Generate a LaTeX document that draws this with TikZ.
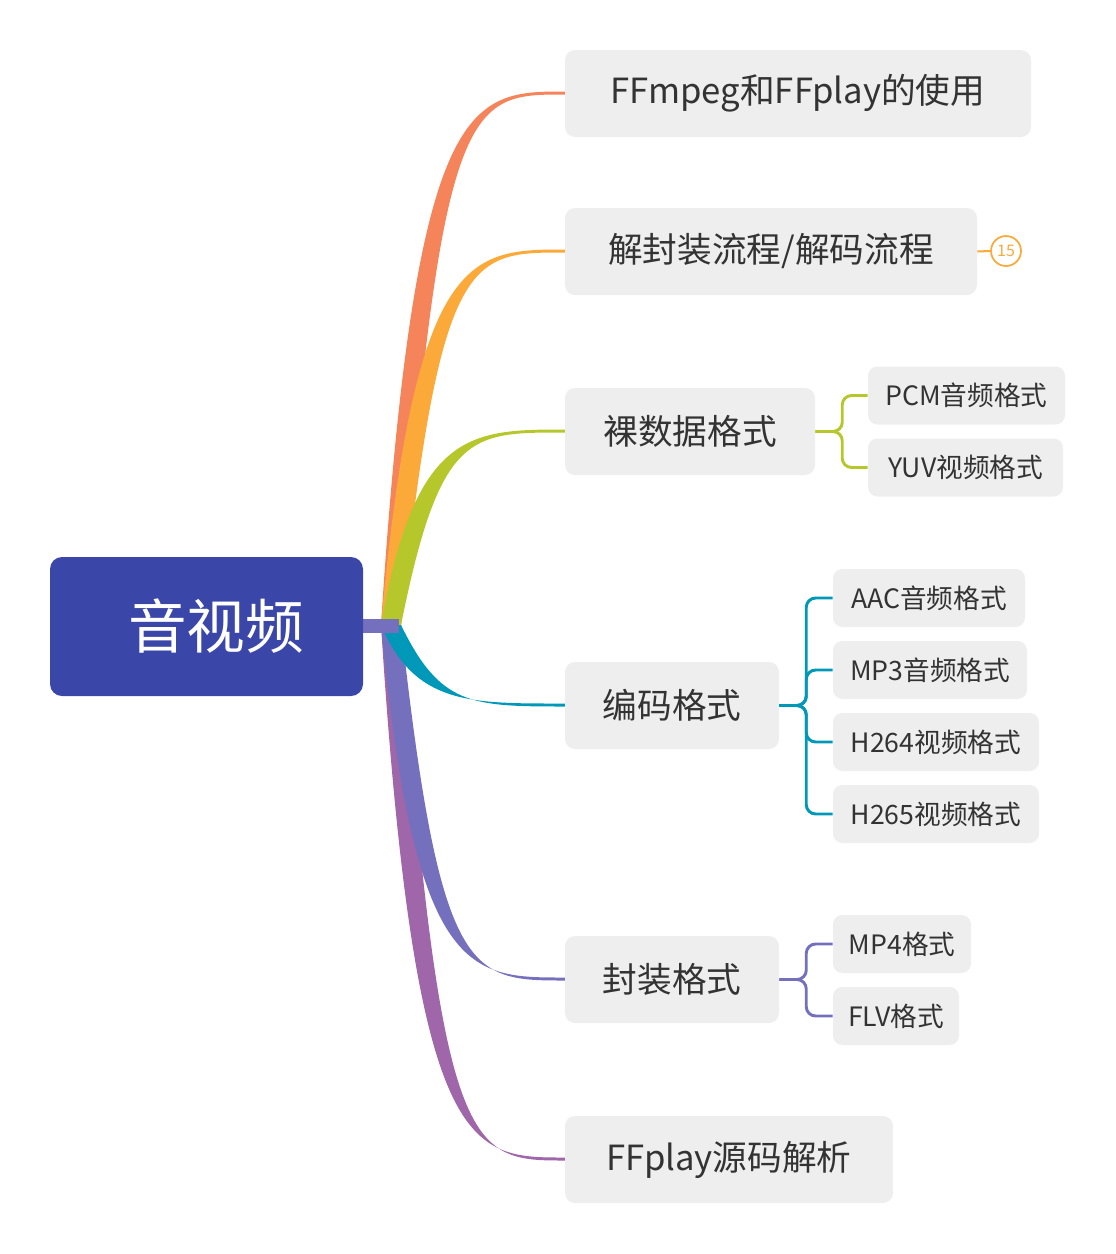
\documentclass[tikz,border=0pt]{standalone}
\usepackage{fontspec}
\setmainfont{Noto Sans CJK SC}
\definecolor{rootc}{HTML}{3A47A8}
\definecolor{c1}{HTML}{F5845A}
\definecolor{c2}{HTML}{FBAA3A}
\definecolor{c3}{HTML}{B5C72B}
\definecolor{c4}{HTML}{0098B9}
\definecolor{c5}{HTML}{7570BE}
\definecolor{c6}{HTML}{A066AA}
\definecolor{boxc}{HTML}{EEEEEE}
\definecolor{txt}{HTML}{333333}
\begin{document}
\begin{tikzpicture}[x=0.75pt,y=-0.75pt,
  mainbox/.style={fill=boxc,rounded corners=7.5pt,minimum height={87*0.75pt},inner sep=0pt,text=txt,font=\fontsize{26}{30}\selectfont},
  subbox/.style={fill=boxc,rounded corners=7pt,minimum height={58*0.75pt},inner sep=0pt,text=txt,font=\fontsize{20}{24}\selectfont},
  link/.style={line width=2.2pt,rounded corners=7pt}]
\useasboundingbox (0,0) rectangle (1116,1254);
% branches
\foreach \y/\c in {93/c1,251/c2,431/c3,1159/c6,979/c5,705/c4}{
  \fill[\c] (381,625) .. controls (415,\y) and (470,{\y-1.5}) .. (565,{\y-1.5}) -- (565,{\y+1.5}) .. controls (470,{\y+1.5}) and (440,\y) .. (401,625) -- cycle;
}
\fill[c5] (360,619) rectangle (399,633);
\node[fill=rootc,rounded corners=9pt,minimum width={313*0.75pt},minimum height={139*0.75pt},inner sep=0pt,font=\fontsize{44}{50}\selectfont] (root) at (206.5,626.5) {};
\node[text=white,font=\fontsize{44}{50}\selectfont] (roottxt) at (216,626.5) {音视频};
\node[mainbox,minimum width={466*0.75pt}] (n1) at (798,93.5) {FFmpeg和FFplay的使用};
\node[mainbox,minimum width={412*0.75pt}] (n2) at (771,251.5) {解封装流程/解码流程};
\node[mainbox,minimum width={250*0.75pt}] (n3) at (690,431.5) {裸数据格式};
\node[mainbox,minimum width={214*0.75pt}] (n4) at (672,705.5) {编码格式};
\node[mainbox,minimum width={214*0.75pt}] (n5) at (672,979.5) {封装格式};
\node[mainbox,minimum width={328*0.75pt}] (n6) at (729,1159.5) {FFplay源码解析};
\node[draw=c2,line width=1.3pt,circle,minimum size={30*0.75pt},inner sep=0pt,text=c2,font=\fontsize{12}{14}\selectfont] (badge) at (1006,251) {15};
\draw[c2,line width=1.5pt] (n2.east) -- (badge.west);
% subnodes
\node[subbox,minimum width={197*0.75pt}] (s1) at (966.5,395.5) {PCM音频格式};
\node[subbox,minimum width={195*0.75pt}] (s2) at (965.5,467.5) {YUV视频格式};
\node[subbox,minimum width={192*0.75pt}] (s3) at (929,598) {AAC音频格式};
\node[subbox,minimum width={194*0.75pt}] (s4) at (930,670) {MP3音频格式};
\node[subbox,minimum width={206*0.75pt}] (s5) at (936,742) {H264视频格式};
\node[subbox,minimum width={206*0.75pt}] (s6) at (936,814) {H265视频格式};
\node[subbox,minimum width={138*0.75pt}] (s7) at (902,944) {MP4格式};
\node[subbox,minimum width={126*0.75pt}] (s8) at (896,1016) {FLV格式};
\foreach \s in {s1,s2} \draw[link,c3] (n3.east) -- ++(27,0) |- (\s.west);
\foreach \s in {s3,s4,s5,s6} \draw[link,c4] (n4.east) -- ++(27,0) |- (\s.west);
\foreach \s in {s7,s8} \draw[link,c5] (n5.east) -- ++(27,0) |- (\s.west);
\end{tikzpicture}
\end{document}
